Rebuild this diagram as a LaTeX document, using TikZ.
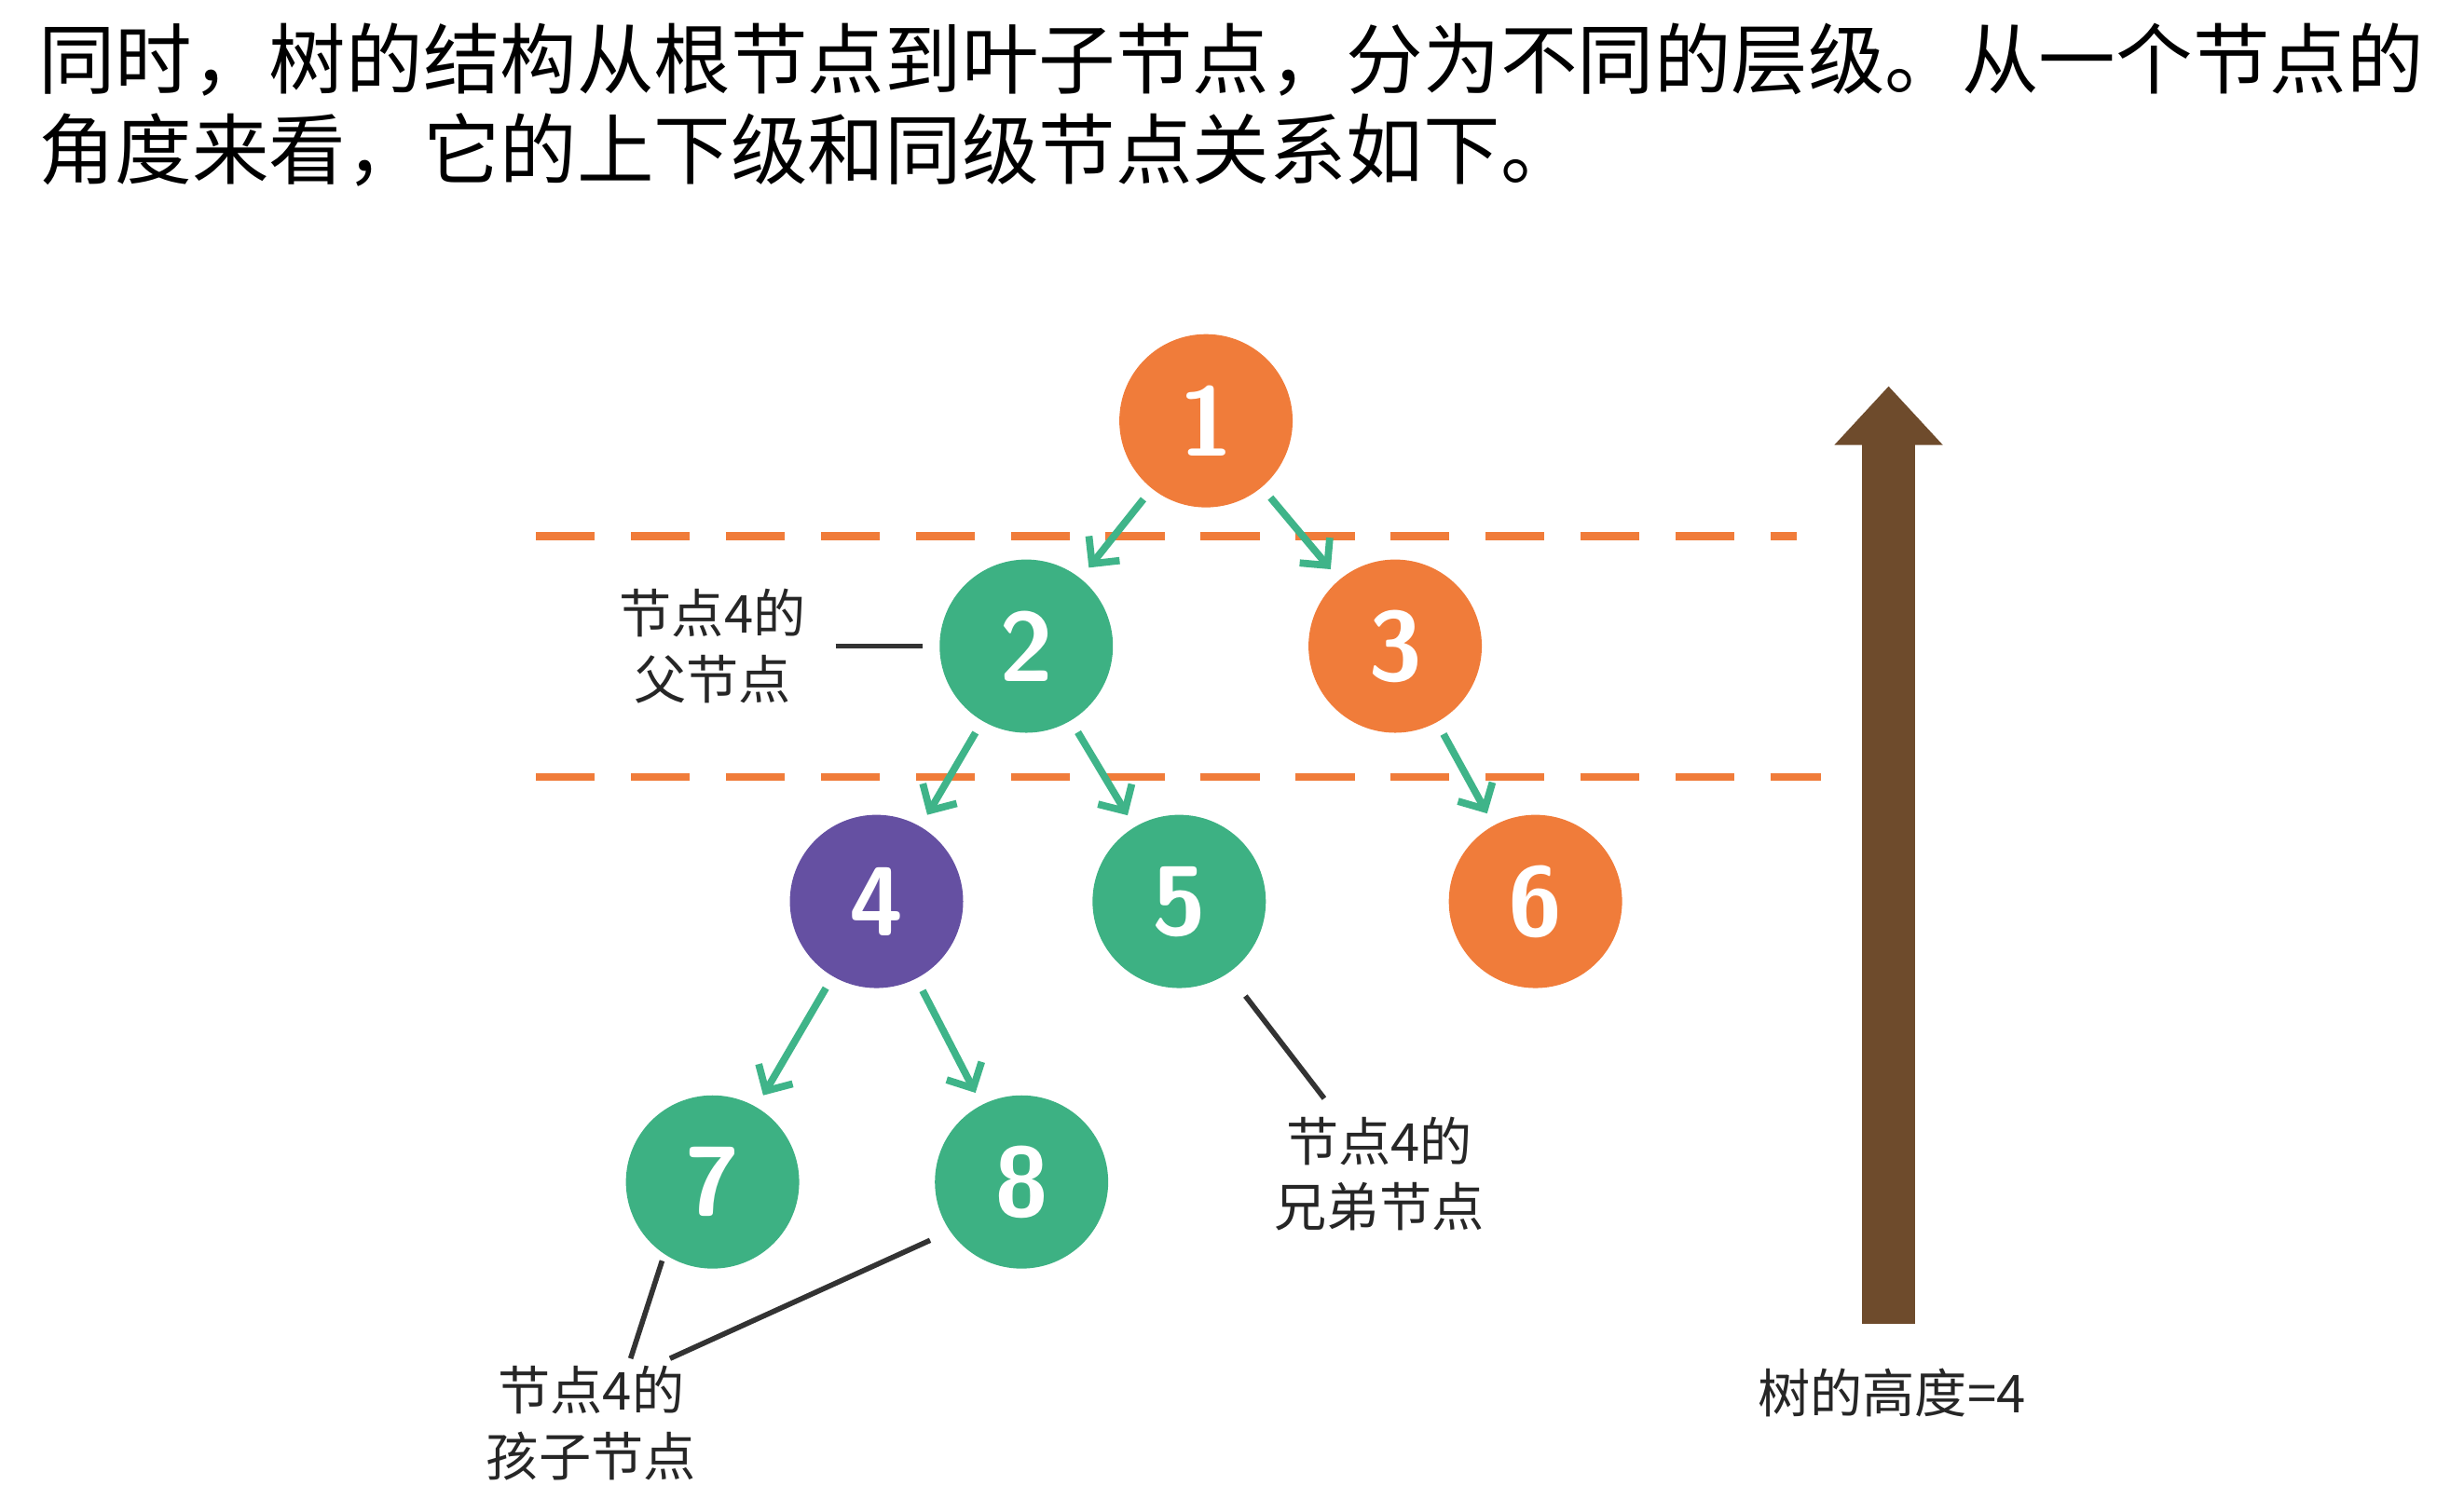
\documentclass[tikz,border=0pt]{standalone}
\usepackage{fontspec}
\newfontfamily\cjk{Noto Sans CJK SC}
\usetikzlibrary{arrows.meta}
\definecolor{torange}{HTML}{F07C3A}
\definecolor{tgreen}{HTML}{3DB183}
\definecolor{tpurple}{HTML}{6550A2}
\definecolor{tbrown}{HTML}{6E4B2C}
\definecolor{tarrow}{HTML}{3FB489}
\tikzset{
	tnode/.style = {circle, minimum size = 1.86cm, inner sep = 0pt, text = white, font = \sffamily\bfseries\fontsize{30}{30}\selectfont},
	tarr/.style = {-{Straight Barb[length=6pt]}, tarrow, line width = 2.2pt, shorten <= 4pt, shorten >= 4pt},
	lbl/.style = {align = center, font = \cjk\fontsize{16}{20}\selectfont, text = black!85},
	lead/.style = {line width = 1.6pt, black!80}
}
\begin{document}
\begin{tikzpicture}[x=0.01692cm, y=-0.01692cm]
	\useasboundingbox (0,0) rectangle (1563,951);
	
	\node [anchor=west, font = \cjk\fontsize{23.5}{28}\selectfont, inner sep = 0pt] (t1) at (24,38) {同时，树的结构从根节点到叶子节点，分为不同的层级。从一个节点的};
	\node [anchor=west, font = \cjk\fontsize{23.5}{28}\selectfont, inner sep = 0pt] (t2) at (24,95) {角度来看，它的上下级和同级节点关系如下。};
	
	\draw [torange, line width = 2.5pt, dash pattern = on 18pt off 11pt] (340,340) -- (1140,340);
	\draw [torange, line width = 2.5pt, dash pattern = on 18pt off 11pt] (340,493) -- (1155,493);
	
	\node [tnode, fill = torange] (n1) at (765,267) {1};
	\node [tnode, fill = tgreen] (n2) at (651,410) {2};
	\node [tnode, fill = torange] (n3) at (885,410) {3};
	\node [tnode, fill = tpurple] (n4) at (556,572) {4};
	\node [tnode, fill = tgreen] (n5) at (748,572) {5};
	\node [tnode, fill = torange] (n6) at (974,572) {6};
	\node [tnode, fill = tgreen] (n7) at (452,750) {7};
	\node [tnode, fill = tgreen] (n8) at (648,750) {8};
	
	\draw [tarr] (n1) -- (n2);
	\draw [tarr] (n1) -- (n3);
	\draw [tarr] (n2) -- (n4);
	\draw [tarr] (n2) -- (n5);
	\draw [tarr] (n3) -- (n6);
	\draw [tarr] (n4) -- (n7);
	\draw [tarr] (n4) -- (n8);
	
	\node [lbl] (lp) at (452,410) {节点4的\\父节点};
	\node [lbl] (ls) at (875,745) {节点4的\\兄弟节点};
	\node [lbl] (lc) at (375,903) {节点4的\\孩子节点};
	\draw [lead] (530,410) -- (585,410);
	\draw [lead] (790,632) -- (840,697);
	\draw [lead] (420,800) -- (400,862);
	\draw [lead] (590,787) -- (425,862);
	
	\coordinate (hb) at (1198,840);
	\coordinate (ht) at (1198,245);
	\draw [tbrown, line width = 16pt, -{Triangle[length=18pt, width=32pt]}] (hb) -- (ht);
	\node [lbl] (lh) at (1200,884) {树的高度=4};
\end{tikzpicture}
\end{document}
